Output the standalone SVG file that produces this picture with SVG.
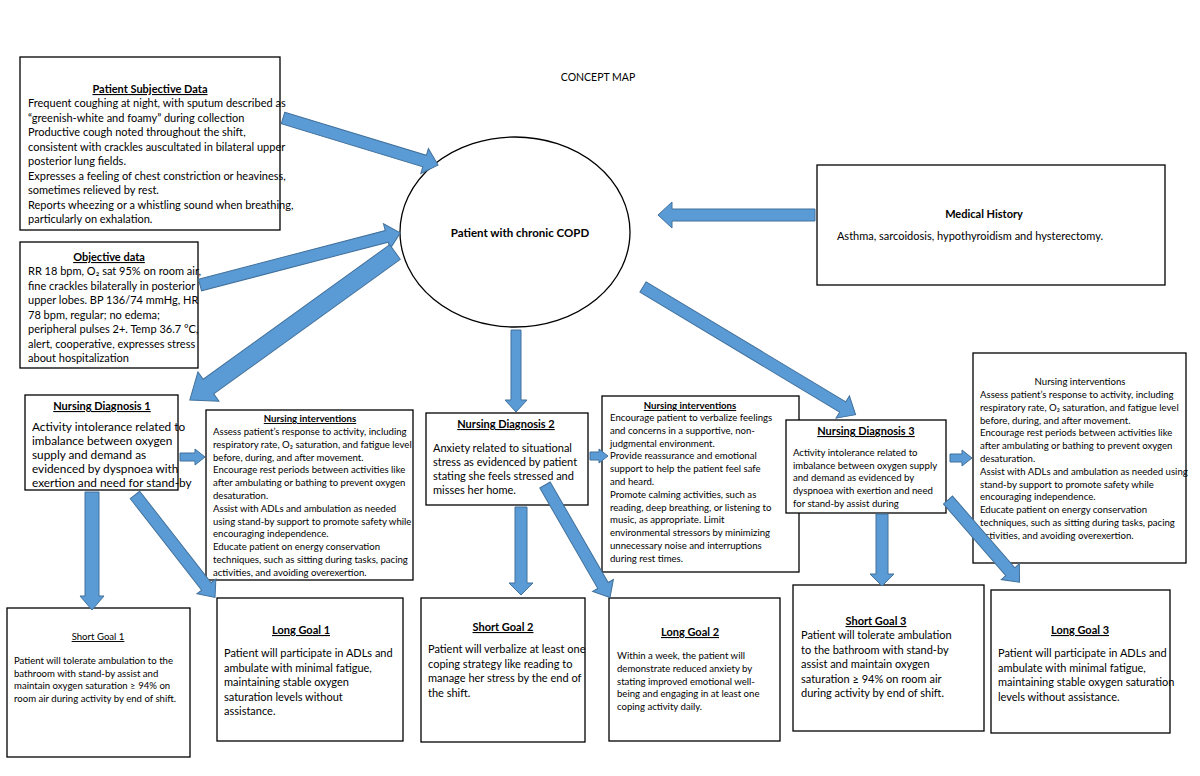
<svg xmlns="http://www.w3.org/2000/svg" width="1200" height="776" viewBox="0 0 1200 776">
<style>
text{font-family:Lato,"Liberation Sans",sans-serif;fill:#000}
.b{fill:#fff;stroke:#000;stroke-width:1.3}
.a{fill:#5b9bd5;stroke:#41719c;stroke-width:1}
.t{font-size:11px}
.s{font-size:9.6px}
.m{font-size:11.8px}
.h{font-weight:bold;text-decoration:underline}
</style>
<defs><clipPath id="c3"><rect x="786" y="420" width="160" height="91"/></clipPath></defs>
<rect width="1200" height="776" fill="#fff"/>
<text x="598" y="81" text-anchor="middle" style="font-size:10.5px">CONCEPT MAP</text>
<g id="subjective">
<rect class="b" x="20" y="57" width="260" height="173"/>
<text class="t" x="150" y="93" text-anchor="middle"><tspan class="h">Patient Subjective Data</tspan></text>
<text class="t" x="28" y="107">
<tspan x="28" dy="0">Frequent coughing at night, with sputum described as</tspan>
<tspan x="28" dy="14.5">“greenish-white and foamy” during collection</tspan>
<tspan x="28" dy="14.5">Productive cough noted throughout the shift,</tspan>
<tspan x="28" dy="14.5">consistent with crackles auscultated in bilateral upper</tspan>
<tspan x="28" dy="14.5">posterior lung fields.</tspan>
<tspan x="28" dy="14.5">Expresses a feeling of chest constriction or heaviness,</tspan>
<tspan x="28" dy="14.5">sometimes relieved by rest.</tspan>
<tspan x="28" dy="14.5">Reports wheezing or a whistling sound when breathing,</tspan>
<tspan x="28" dy="14.5">particularly on exhalation.</tspan>
</text>
</g>
<g id="objective">
<rect class="b" x="20" y="242" width="178" height="126"/>
<text class="t" x="109" y="261" text-anchor="middle"><tspan class="h">Objective data</tspan></text>
<text class="t" x="28" y="275">
<tspan x="28" dy="0">RR 18 bpm, O₂ sat 95% on room air,</tspan>
<tspan x="28" dy="14.5">fine crackles bilaterally in posterior</tspan>
<tspan x="28" dy="14.5">upper lobes. BP 136/74 mmHg, HR</tspan>
<tspan x="28" dy="14.5">78 bpm, regular; no edema;</tspan>
<tspan x="28" dy="14.5">peripheral pulses 2+. Temp 36.7 °C,</tspan>
<tspan x="28" dy="14.5">alert, cooperative, expresses stress</tspan>
<tspan x="28" dy="14.5">about hospitalization</tspan>
</text>
</g>
<g id="center">
<ellipse class="b" cx="515" cy="232" rx="115" ry="95"/>
<text x="520" y="237" text-anchor="middle" style="font-size:11.5px;font-weight:bold">Patient with chronic COPD</text>
</g>
<g id="history">
<rect class="b" x="817" y="165" width="348" height="120"/>
<text x="984" y="218" text-anchor="middle" style="font-size:11px;font-weight:bold">Medical History</text>
<text class="t" x="970" y="240" text-anchor="middle">Asthma, sarcoidosis, hypothyroidism and hysterectomy.</text>
</g>
<g id="nd1">
<rect class="b" x="25" y="395" width="153" height="95"/>
<text class="t" x="102" y="410" text-anchor="middle"><tspan class="h">Nursing Diagnosis 1</tspan></text>
<text class="m" x="32" y="431">
<tspan x="32" dy="0">Activity intolerance related to</tspan>
<tspan x="32" dy="14">imbalance between oxygen</tspan>
<tspan x="32" dy="14">supply and demand as</tspan>
<tspan x="32" dy="14">evidenced by dyspnoea with</tspan>
<tspan x="32" dy="14">exertion and need for stand-by</tspan>
</text>
</g>
<g id="ni1">
<rect class="b" x="206" y="410" width="207" height="170"/>
<text class="s" x="310" y="422" text-anchor="middle"><tspan class="h">Nursing interventions</tspan></text>
<text class="s" x="213" y="435">
<tspan x="213" dy="0">Assess patient’s response to activity, including</tspan>
<tspan x="213" dy="12.8">respiratory rate, O₂ saturation, and fatigue level</tspan>
<tspan x="213" dy="12.8">before, during, and after movement.</tspan>
<tspan x="213" dy="12.8">Encourage rest periods between activities like</tspan>
<tspan x="213" dy="12.8">after ambulating or bathing to prevent oxygen</tspan>
<tspan x="213" dy="12.8">desaturation.</tspan>
<tspan x="213" dy="12.8">Assist with ADLs and ambulation as needed</tspan>
<tspan x="213" dy="12.8">using stand-by support to promote safety while</tspan>
<tspan x="213" dy="12.8">encouraging independence.</tspan>
<tspan x="213" dy="12.8">Educate patient on energy conservation</tspan>
<tspan x="213" dy="12.8">techniques, such as sitting during tasks, pacing</tspan>
<tspan x="213" dy="12.8">activities, and avoiding overexertion.</tspan>
</text>
</g>
<g id="nd2">
<rect class="b" x="426" y="413" width="162" height="92"/>
<text class="t" x="506" y="428" text-anchor="middle"><tspan class="h">Nursing Diagnosis 2</tspan></text>
<text class="t" x="433" y="452">
<tspan x="433" dy="0">Anxiety related to situational</tspan>
<tspan x="433" dy="14">stress as evidenced by patient</tspan>
<tspan x="433" dy="14">stating she feels stressed and</tspan>
<tspan x="433" dy="14">misses her home.</tspan>
</text>
</g>
<g id="ni2">
<rect class="b" x="602" y="396" width="197" height="176"/>
<text class="s" x="690" y="409" text-anchor="middle"><tspan class="h">Nursing interventions</tspan></text>
<text class="s" x="610" y="421">
<tspan x="610" dy="0">Encourage patient to verbalize feelings</tspan>
<tspan x="610" dy="12.8">and concerns in a supportive, non-</tspan>
<tspan x="610" dy="12.8">judgmental environment.</tspan>
<tspan x="610" dy="12.8">Provide reassurance and emotional</tspan>
<tspan x="610" dy="12.8">support to help the patient feel safe</tspan>
<tspan x="610" dy="12.8">and heard.</tspan>
<tspan x="610" dy="12.8">Promote calming activities, such as</tspan>
<tspan x="610" dy="12.8">reading, deep breathing, or listening to</tspan>
<tspan x="610" dy="12.8">music, as appropriate. Limit</tspan>
<tspan x="610" dy="12.8">environmental stressors by minimizing</tspan>
<tspan x="610" dy="12.8">unnecessary noise and interruptions</tspan>
<tspan x="610" dy="12.8">during rest times.</tspan>
</text>
</g>
<g id="nd3">
<rect class="b" x="786" y="420" width="160" height="93"/>
<text class="t" x="866" y="435" text-anchor="middle"><tspan class="h">Nursing Diagnosis 3</tspan></text>
<text class="s" x="793" y="456" clip-path="url(#c3)">
<tspan x="793" dy="0">Activity intolerance related to</tspan>
<tspan x="793" dy="12.7">imbalance between oxygen supply</tspan>
<tspan x="793" dy="12.7">and demand as evidenced by</tspan>
<tspan x="793" dy="12.7">dyspnoea with exertion and need</tspan>
<tspan x="793" dy="12.7">for stand-by assist during</tspan>
<tspan x="793" dy="12.7">ambulation.</tspan>
</text>
</g>
<g id="ni3">
<rect class="b" x="973" y="353" width="213" height="210"/>
<text class="s" x="1080" y="385" text-anchor="middle">Nursing interventions</text>
<text class="s" x="980" y="398">
<tspan x="980" dy="0">Assess patient’s response to activity, including</tspan>
<tspan x="980" dy="12.8">respiratory rate, O₂ saturation, and fatigue level</tspan>
<tspan x="980" dy="12.8">before, during, and after movement.</tspan>
<tspan x="980" dy="12.8">Encourage rest periods between activities like</tspan>
<tspan x="980" dy="12.8">after ambulating or bathing to prevent oxygen</tspan>
<tspan x="980" dy="12.8">desaturation.</tspan>
<tspan x="980" dy="12.8">Assist with ADLs and ambulation as needed using</tspan>
<tspan x="980" dy="12.8">stand-by support to promote safety while</tspan>
<tspan x="980" dy="12.8">encouraging independence.</tspan>
<tspan x="980" dy="12.8">Educate patient on energy conservation</tspan>
<tspan x="980" dy="12.8">techniques, such as sitting during tasks, pacing</tspan>
<tspan x="980" dy="12.8">activities, and avoiding overexertion.</tspan>
</text>
</g>
<g id="sg1">
<rect class="b" x="7" y="608" width="183" height="149"/>
<text class="s" x="98" y="640" text-anchor="middle" text-decoration="underline">Short Goal 1</text>
<text class="s" x="14" y="664">
<tspan x="14" dy="0">Patient will tolerate ambulation to the</tspan>
<tspan x="14" dy="12.5">bathroom with stand-by assist and</tspan>
<tspan x="14" dy="12.5">maintain oxygen saturation ≥ 94% on</tspan>
<tspan x="14" dy="12.5">room air during activity by end of shift.</tspan>
</text>
</g>
<g id="lg1">
<rect class="b" x="217" y="598" width="186" height="143"/>
<text class="t" x="301" y="634" text-anchor="middle"><tspan class="h">Long Goal 1</tspan></text>
<text class="t" x="224" y="657">
<tspan x="224" dy="0">Patient will participate in ADLs and</tspan>
<tspan x="224" dy="14.5">ambulate with minimal fatigue,</tspan>
<tspan x="224" dy="14.5">maintaining stable oxygen</tspan>
<tspan x="224" dy="14.5">saturation levels without</tspan>
<tspan x="224" dy="14.5">assistance.</tspan>
</text>
</g>
<g id="sg2">
<rect class="b" x="421" y="598" width="164" height="144"/>
<text class="t" x="503" y="631" text-anchor="middle"><tspan class="h">Short Goal 2</tspan></text>
<text class="t" x="428" y="653">
<tspan x="428" dy="0">Patient will verbalize at least one</tspan>
<tspan x="428" dy="14.5">coping strategy like reading to</tspan>
<tspan x="428" dy="14.5">manage her stress by the end of</tspan>
<tspan x="428" dy="14.5">the shift.</tspan>
</text>
</g>
<g id="lg2">
<rect class="b" x="609" y="598" width="171" height="143"/>
<text class="t" x="690" y="636" text-anchor="middle"><tspan class="h">Long Goal 2</tspan></text>
<text class="s" x="617" y="659">
<tspan x="617" dy="0">Within a week, the patient will</tspan>
<tspan x="617" dy="12.8">demonstrate reduced anxiety by</tspan>
<tspan x="617" dy="12.8">stating improved emotional well-</tspan>
<tspan x="617" dy="12.8">being and engaging in at least one</tspan>
<tspan x="617" dy="12.8">coping activity daily.</tspan>
</text>
</g>
<g id="sg3">
<rect class="b" x="793" y="585" width="191" height="146"/>
<text class="t" x="876" y="625" text-anchor="middle"><tspan class="h">Short Goal 3</tspan></text>
<text class="t" x="801" y="639">
<tspan x="801" dy="0">Patient will tolerate ambulation</tspan>
<tspan x="801" dy="14.5">to the bathroom with stand-by</tspan>
<tspan x="801" dy="14.5">assist and maintain oxygen</tspan>
<tspan x="801" dy="14.5">saturation ≥ 94% on room air</tspan>
<tspan x="801" dy="14.5">during activity by end of shift.</tspan>
</text>
</g>
<g id="lg3">
<rect class="b" x="991" y="590" width="179" height="143"/>
<text class="t" x="1080" y="634" text-anchor="middle"><tspan class="h">Long Goal 3</tspan></text>
<text class="t" x="998" y="657">
<tspan x="998" dy="0">Patient will participate in ADLs and</tspan>
<tspan x="998" dy="14.5">ambulate with minimal fatigue,</tspan>
<tspan x="998" dy="14.5">maintaining stable oxygen saturation</tspan>
<tspan x="998" dy="14.5">levels without assistance.</tspan>
</text>
</g>
<g id="connectors">
<polygon class="a" transform="translate(283,118) rotate(16.9)" points="0,-6 148,-6 148,-13 162,0 148,13 148,6 0,6"/>
<polygon class="a" transform="translate(200,285) rotate(-14.6)" points="0,-6 193,-6 193,-13 207,0 193,13 193,6 0,6"/>
<polygon class="a" transform="translate(395,252) rotate(144.2)" points="0,-9 230,-9 230,-18 253,0 230,18 230,9 0,9"/>
<polygon class="a" transform="translate(815,215) rotate(180)" points="0,-6 143,-6 143,-13 157,0 143,13 143,6 0,6"/>
<polygon class="a" transform="translate(516,330) rotate(90)" points="0,-5 70,-5 70,-11 82,0 70,11 70,5 0,5"/>
<polygon class="a" transform="translate(643,287) rotate(31)" points="0,-6 233,-6 233,-13 248,0 233,13 233,6 0,6"/>
<polygon class="a" transform="translate(180,457) rotate(0)" points="0,-4 15,-4 15,-8 25,0 15,8 15,4 0,4"/>
<polygon class="a" transform="translate(92,492) rotate(90)" points="0,-7 104,-7 104,-12 118,0 104,12 104,7 0,7"/>
<polygon class="a" transform="translate(135,495) rotate(52)" points="0,-6 116,-6 116,-12 130,0 116,12 116,6 0,6"/>
<polygon class="a" transform="translate(590,456) rotate(0)" points="0,-4 9,-4 9,-7 18,0 9,7 9,4 0,4"/>
<polygon class="a" transform="translate(521,507) rotate(90)" points="0,-6 76,-6 76,-12 88,0 76,12 76,6 0,6"/>
<polygon class="a" transform="translate(545,485) rotate(60)" points="0,-6 116,-6 116,-12 130,0 116,12 116,6 0,6"/>
<polygon class="a" transform="translate(950,458) rotate(0)" points="0,-4 12,-4 12,-8 22,0 12,8 12,4 0,4"/>
<polygon class="a" transform="translate(882,514) rotate(90)" points="0,-6 60,-6 60,-12 72,0 60,12 60,6 0,6"/>
<polygon class="a" transform="translate(948,500) rotate(49)" points="0,-6 95,-6 95,-12 109,0 95,12 95,6 0,6"/>
</g>
</svg>
